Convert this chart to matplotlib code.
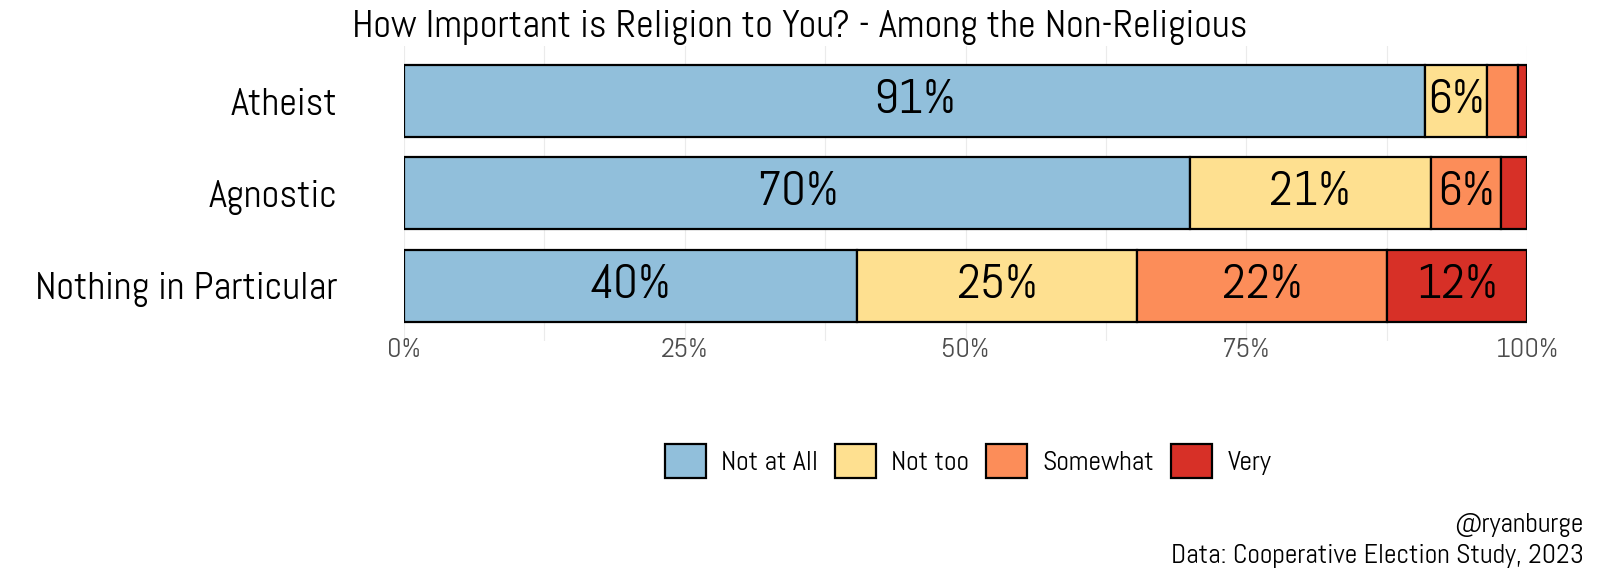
import matplotlib
matplotlib.use("Agg")
import matplotlib.pyplot as plt
import numpy as np

# data (shares)
groups = ["Atheist", "Agnostic", "Nothing in Particular"]
levels = ["Not at All", "Not too", "Somewhat", "Very"]
not_at_all = [0.909, 0.700, 0.403]
not_too = [0.055, 0.214, 0.250]
somewhat = [0.028, 0.063, 0.222]
very = [0.008, 0.023, 0.125]
colors = ["#91bfdb", "#fee090", "#fc8d59", "#d73027"]

plt.rcParams["font.family"] = ["Abel", "DejaVu Sans"]

fig = plt.figure(figsize=(16, 5.78), dpi=100)
ax = fig.add_axes([0.2525, 0.410, 0.702, 0.511])

series = [not_at_all, not_too, somewhat, very]
y = np.arange(len(groups))
left = np.zeros(len(groups))
for vals, col, lab in zip(series, colors, levels):
    vals = np.array(vals)
    ax.barh(y, vals, left=left, height=0.78, color=col, edgecolor="black",
            linewidth=1.6, label=lab, zorder=2)
    # only label the wider segments, like the original
    for yi, l, v in zip(y, left, vals):
        if v > 0.05:
            ax.text(l + v / 2, yi, f"{round(v * 100):.0f}%", ha="center",
                    va="center", fontsize=35, color="black", zorder=3)
    left += vals

ax.set_xlim(0, 1)
ax.set_ylim(len(groups) - 0.4, -0.6)
ax.set_yticks(y)
ax.set_yticklabels(groups, fontsize=28)
ax.set_xticks([0, 0.25, 0.5, 0.75, 1.0])
ax.set_xticklabels(["0%", "25%", "50%", "75%", "100%"], fontsize=20.5, color="#4d4d4d")
ax.set_xticks(np.arange(0.125, 1, 0.25), minor=True)
ax.tick_params(axis="both", which="both", length=0)
ax.tick_params(axis="y", pad=48)
ax.tick_params(axis="x", pad=-2)
ax.grid(axis="x", which="both", color="#ebebeb", linewidth=0.8, zorder=0)
for s in ax.spines.values():
    s.set_visible(False)

fig.text(0.5, 0.952, "How Important is Religion to You? - Among the Non-Religious",
         ha="center", va="center", fontsize=28)

fig.legend(*ax.get_legend_handles_labels(), loc="center",
           bbox_to_anchor=(0.605, 0.202), ncol=4, frameon=False,
           fontsize=20, handlelength=1.48, handleheight=1.48,
           handletextpad=0.55, columnspacing=0.6)

fig.text(0.99, 0.092, "@ryanburge", ha="right", va="center", fontsize=20)
fig.text(0.99, 0.038, "Data: Cooperative Election Study, 2023", ha="right",
         va="center", fontsize=20)

fig.savefig("out.png")
